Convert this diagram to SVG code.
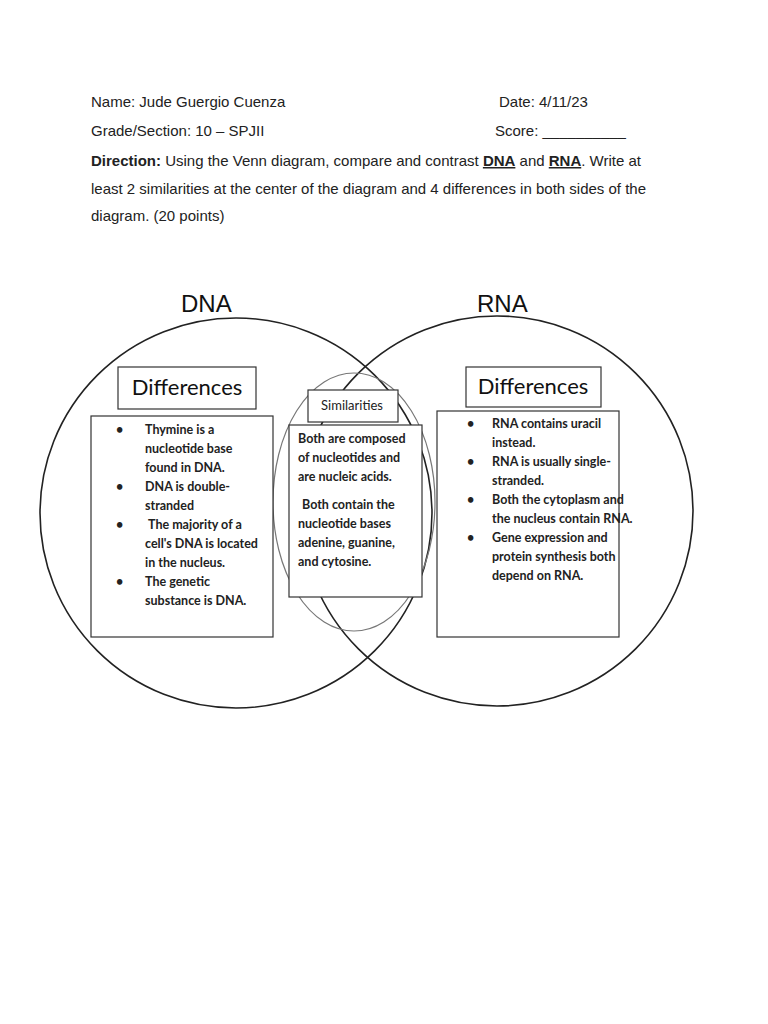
<svg xmlns="http://www.w3.org/2000/svg" width="768" height="1024" viewBox="0 0 768 1024">
<style>
.hd{font-family:"Liberation Sans",Arial,sans-serif;font-size:15px;fill:#222}
.ttl{font-family:"Liberation Sans",Arial,sans-serif;font-size:24px;fill:#111}
.dif{font-family:Lato,"Open Sans",sans-serif;font-size:22px;fill:#111}
.li{font-family:Lato,"Open Sans",sans-serif;font-size:12.5px;font-weight:bold;fill:#222}
.sim{font-family:Lato,"Open Sans",sans-serif;font-size:13px;fill:#222}
.box{fill:#fff;stroke:#333;stroke-width:1.2}
.circ{fill:none;stroke:#222;stroke-width:1.6}
.ell{fill:none;stroke:#777;stroke-width:1.2}
</style>
<rect width="768" height="1024" fill="#fff"/>
<g id="header">
<text class="hd" x="91" y="107">Name: Jude Guergio Cuenza</text>
<text class="hd" x="499" y="107">Date: 4/11/23</text>
<text class="hd" x="91" y="136">Grade/Section: 10 – SPJII</text>
<text class="hd" x="495" y="136">Score: __________</text>
<text class="hd" x="91" y="166"><tspan font-weight="bold">Direction:</tspan> Using the Venn diagram, compare and contrast <tspan font-weight="bold" text-decoration="underline">DNA</tspan> and <tspan font-weight="bold" text-decoration="underline">RNA</tspan>. Write at</text>
<text class="hd" x="91" y="194">least 2 similarities at the center of the diagram and 4 differences in both sides of the</text>
<text class="hd" x="91" y="221">diagram. (20 points)</text>
</g>
<g id="venn">
<ellipse class="circ" cx="236" cy="513" rx="196" ry="195"/>
<ellipse class="circ" cx="497" cy="511" rx="196" ry="195"/>
<ellipse class="ell" cx="354" cy="502" rx="81" ry="129"/>
</g>
<g id="dna-label"><text class="ttl" x="181" y="312">DNA</text></g>
<g id="rna-label"><text class="ttl" x="477" y="312">RNA</text></g>
<g id="dna-diff-title">
<rect class="box" x="118" y="367" width="138" height="42"/>
<text class="dif" x="187" y="395" text-anchor="middle">Differences</text>
</g>
<g id="dna-diff-list">
<rect class="box" x="91" y="416" width="182" height="221"/>
<g class="li">
<text x="116" y="434">•</text><text x="145" y="434">Thymine is a</text>
<text x="145" y="453">nucleotide base</text>
<text x="145" y="472">found in DNA.</text>
<text x="116" y="491">•</text><text x="145" y="491">DNA is double-</text>
<text x="145" y="510">stranded</text>
<text x="116" y="529">•</text><text x="148" y="529">The majority of a</text>
<text x="145" y="548">cell's DNA is located</text>
<text x="145" y="567">in the nucleus.</text>
<text x="116" y="586">•</text><text x="145" y="586">The genetic</text>
<text x="145" y="605">substance is DNA.</text>
</g>
</g>
<g id="similarities-title">
<rect class="box" x="308" y="390" width="90" height="32"/>
<text class="sim" x="352" y="410" text-anchor="middle">Similarities</text>
</g>
<g id="similarities-list">
<rect class="box" x="289" y="425" width="133" height="172"/>
<g class="li">
<text x="298" y="443">Both are composed</text>
<text x="298" y="462">of nucleotides and</text>
<text x="298" y="481">are nucleic acids.</text>
<text x="302" y="509">Both contain the</text>
<text x="298" y="528">nucleotide bases</text>
<text x="298" y="547">adenine, guanine,</text>
<text x="298" y="566">and cytosine.</text>
</g>
</g>
<g id="rna-diff-title">
<rect class="box" x="466" y="367" width="135" height="40"/>
<text class="dif" x="533" y="394" text-anchor="middle">Differences</text>
</g>
<g id="rna-diff-list">
<rect class="box" x="437" y="411" width="182" height="226"/>
<g class="li">
<text x="467" y="428">•</text><text x="492" y="428">RNA contains uracil</text>
<text x="492" y="447">instead.</text>
<text x="467" y="466">•</text><text x="492" y="466">RNA is usually single-</text>
<text x="492" y="485">stranded.</text>
<text x="467" y="504">•</text><text x="492" y="504">Both the cytoplasm and</text>
<text x="492" y="523">the nucleus contain RNA.</text>
<text x="467" y="542">•</text><text x="492" y="542">Gene expression and</text>
<text x="492" y="561">protein synthesis both</text>
<text x="492" y="580">depend on RNA.</text>
</g>
</g>
</svg>
